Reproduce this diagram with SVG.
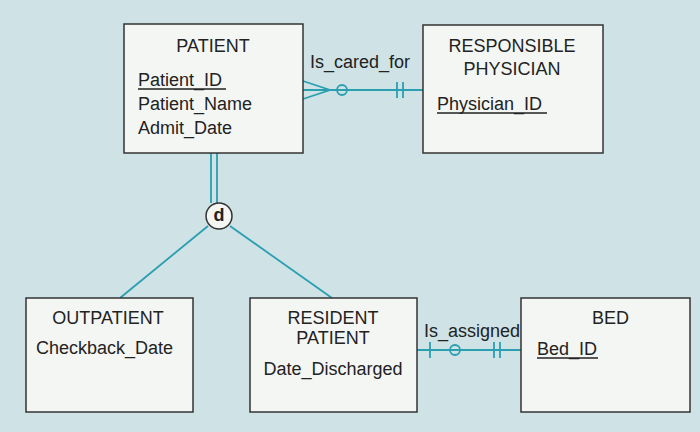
<svg xmlns="http://www.w3.org/2000/svg" width="700" height="432" viewBox="0 0 700 432">
<style>
.box{fill:#f4f6f4;stroke:#333;stroke-width:1.5}
.t{font-family:"Liberation Sans",Arial,sans-serif;font-size:18px;fill:#222}
.c{stroke:#2a9fb0;stroke-width:1.8;fill:none}
</style>
<rect width="700" height="432" fill="#cfe2e6"/>
<g id="connectors">
<line class="c" x1="303" y1="90" x2="423" y2="90"/>
<path class="c" d="M303 81 L330 90 L303 99"/>
<circle class="c" cx="342" cy="90" r="5"/>
<line class="c" x1="397" y1="82" x2="397" y2="98"/>
<line class="c" x1="403" y1="82" x2="403" y2="98"/>
<line class="c" x1="211" y1="153" x2="211" y2="203"/>
<line class="c" x1="217" y1="153" x2="217" y2="203"/>
<line class="c" x1="208" y1="226" x2="120" y2="298"/>
<line class="c" x1="230" y1="226" x2="332" y2="298"/>
<line class="c" x1="417" y1="350" x2="521" y2="350"/>
<line class="c" x1="430" y1="342" x2="430" y2="358"/>
<circle class="c" cx="455" cy="350" r="5"/>
<line class="c" x1="494" y1="342" x2="494" y2="358"/>
<line class="c" x1="500" y1="342" x2="500" y2="358"/>
<text class="t" x="310" y="68">Is_cared_for</text>
<text class="t" x="424" y="337" font-size="17">Is_assigned</text>
</g>
<g id="d">
<circle cx="219" cy="216" r="13" fill="#f4f6f4" stroke="#333" stroke-width="1.5"/>
<text class="t" x="219" y="221" text-anchor="middle" font-size="14" font-weight="bold">d</text>
</g>
<g id="patient">
<rect class="box" x="124" y="24" width="179" height="129"/>
<text class="t" x="213" y="52" text-anchor="middle">PATIENT</text>
<text class="t" x="138" y="86">Patient_ID</text>
<line x1="138" y1="89" x2="226" y2="89" stroke="#222" stroke-width="1.3"/>
<text class="t" x="138" y="110">Patient_Name</text>
<text class="t" x="138" y="134">Admit_Date</text>
</g>
<g id="physician">
<rect class="box" x="423" y="25" width="180" height="128"/>
<text class="t" x="512" y="52" text-anchor="middle">RESPONSIBLE</text>
<text class="t" x="512" y="75" text-anchor="middle">PHYSICIAN</text>
<text class="t" x="437" y="110">Physician_ID</text>
<line x1="437" y1="113" x2="547" y2="113" stroke="#222" stroke-width="1.3"/>
</g>
<g id="outpatient">
<rect class="box" x="26" y="298" width="167" height="114"/>
<text class="t" x="108" y="324" text-anchor="middle" font-size="17">OUTPATIENT</text>
<text class="t" x="36" y="354" font-size="17">Checkback_Date</text>
</g>
<g id="resident">
<rect class="box" x="250" y="298" width="167" height="114"/>
<text class="t" x="333" y="324" text-anchor="middle" font-size="17">RESIDENT</text>
<text class="t" x="333" y="344" text-anchor="middle" font-size="17">PATIENT</text>
<text class="t" x="333" y="375" text-anchor="middle" font-size="17">Date_Discharged</text>
</g>
<g id="bed">
<rect class="box" x="521" y="298" width="169" height="114"/>
<text class="t" x="592" y="324" font-size="17">BED</text>
<text class="t" x="537" y="355" font-size="17">Bed_ID</text>
<line x1="537" y1="358" x2="598" y2="358" stroke="#222" stroke-width="1.3"/>
</g>
</svg>
